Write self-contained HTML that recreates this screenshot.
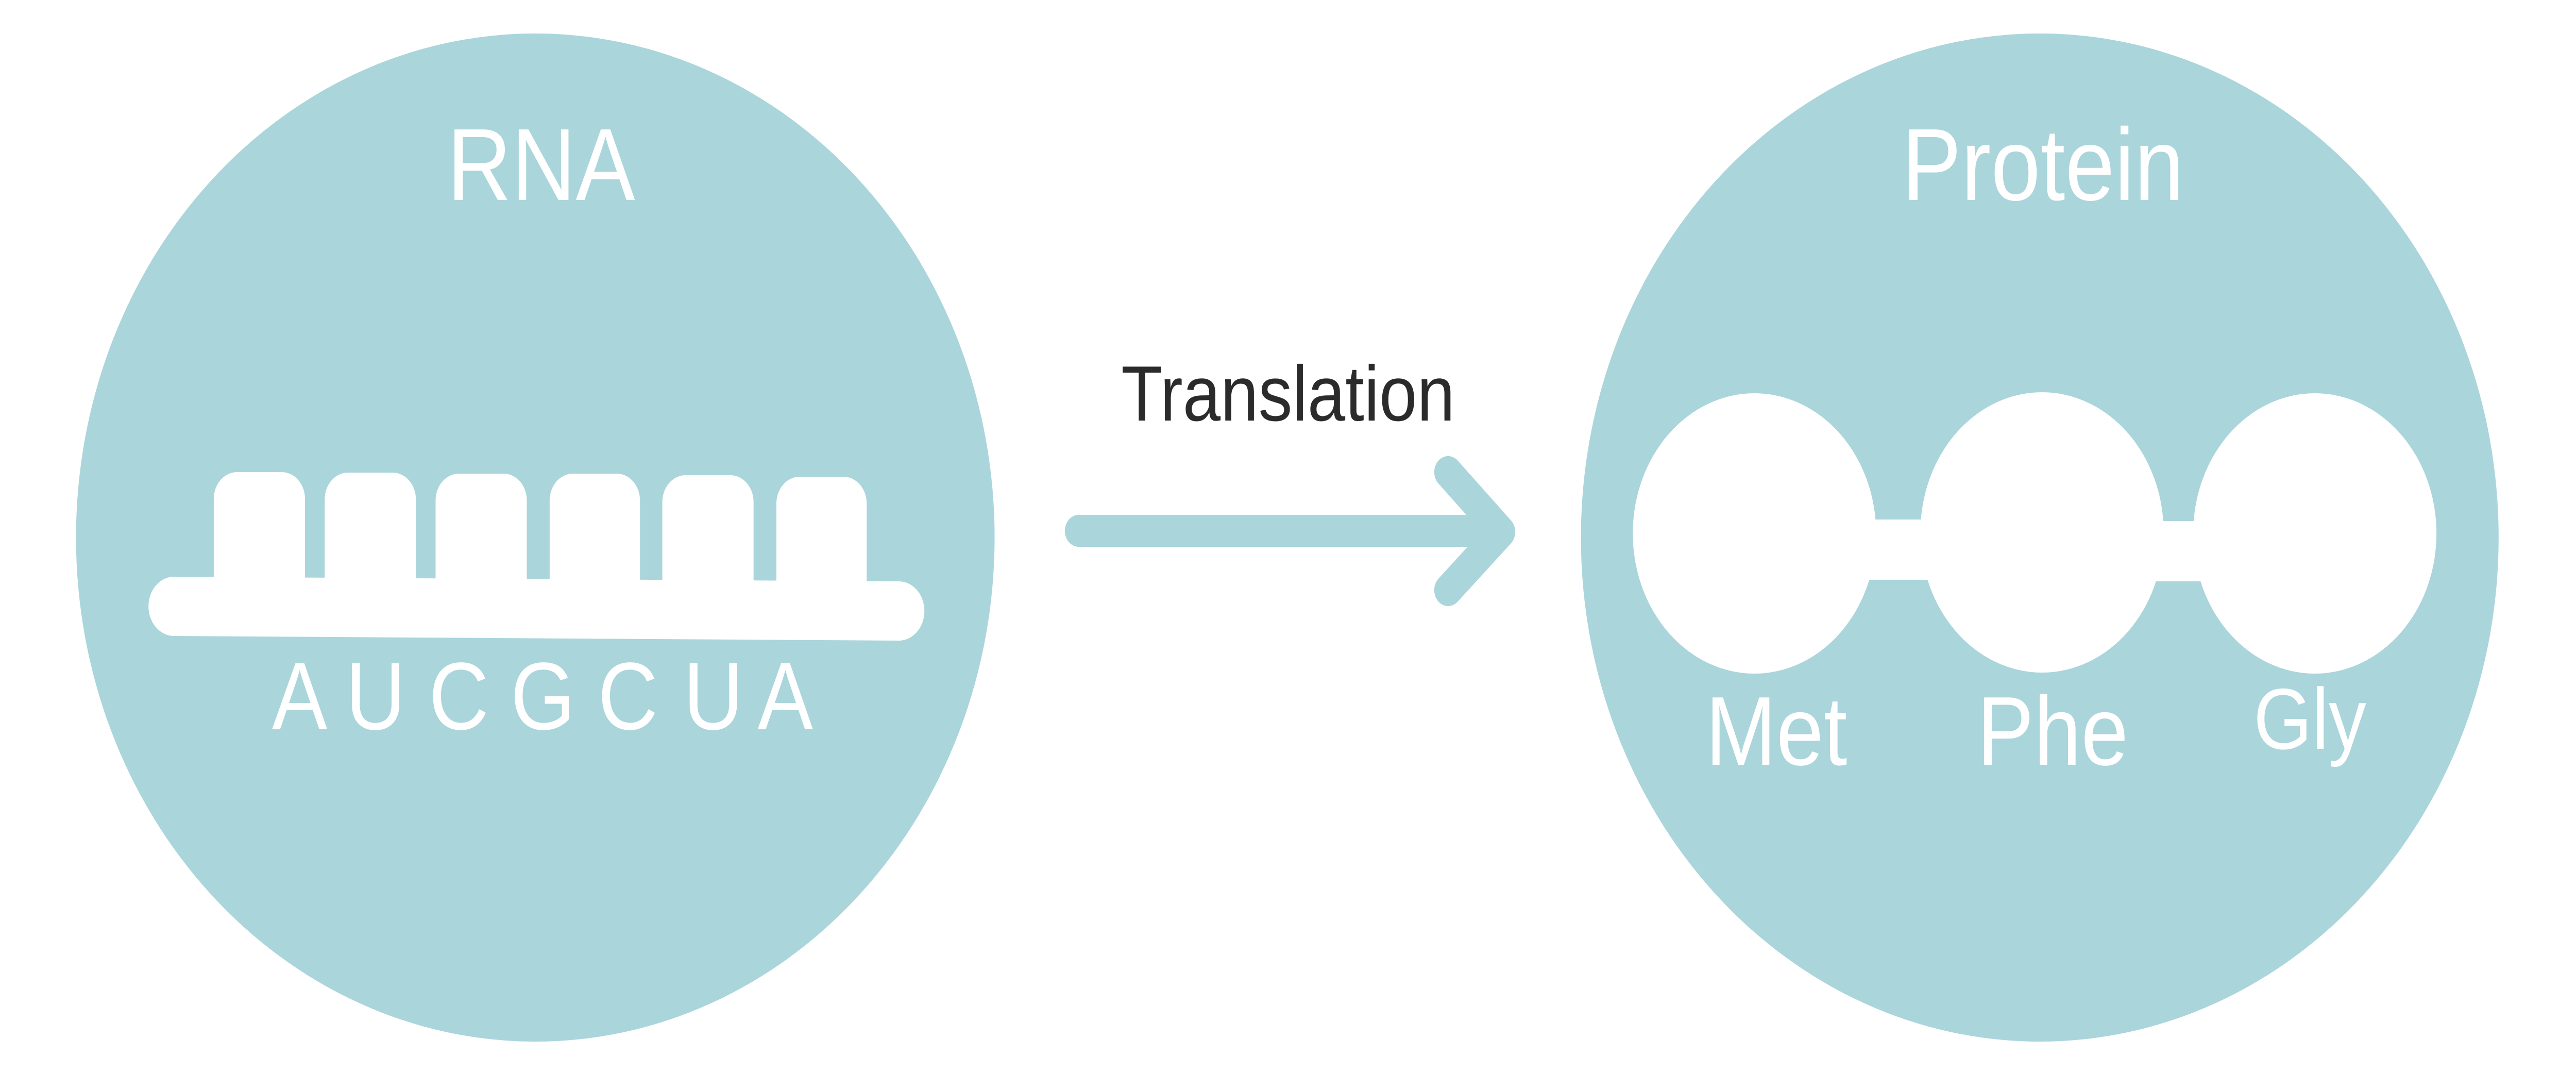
<!DOCTYPE html>
<html><head><meta charset="utf-8"><style>
html,body{margin:0;padding:0;background:#fff;width:100%;height:100%;overflow:hidden;}
svg{display:block;width:100vw;height:100vh;}
text{font-family:"Liberation Sans",Arial,sans-serif;}
</style></head><body>
<svg viewBox="0 0 5760 2080" preserveAspectRatio="none" xmlns="http://www.w3.org/2000/svg">
<rect width="5760" height="2080" fill="#fff"/>
<ellipse cx="1197" cy="1043" rx="1027" ry="978" fill="#aad5db"/>
<ellipse cx="4561" cy="1043" rx="1026" ry="978" fill="#aad5db"/>
<text x="1210" y="388" font-size="199" fill="#fff" text-anchor="middle">RNA</text>
<g fill="#fff">
<path d="M389,1119 L2010,1128 A57,57.5 0 0 1 2010,1243 L389,1234 A57,57.5 0 0 1 389,1119 Z"/>
<rect x="478" y="916" width="204" height="260" rx="52"/>
<rect x="726" y="917" width="204" height="260" rx="52"/>
<rect x="974" y="919" width="204" height="260" rx="52"/>
<rect x="1229" y="919" width="202" height="260" rx="52"/>
<rect x="1481" y="922" width="204" height="260" rx="52"/>
<rect x="1736" y="925" width="202" height="260" rx="52"/>
</g>
<g font-size="186" fill="#fff" text-anchor="middle">
<text x="670" y="1415">A</text>
<text x="840" y="1415">U</text>
<text x="1026" y="1415">C</text>
<text x="1214" y="1415">G</text>
<text x="1404" y="1415">C</text>
<text x="1595" y="1415">U</text>
<text x="1756" y="1415">A</text>
</g>
<text x="2880" y="816" font-size="152" fill="#2b2b2b" text-anchor="middle">Translation</text>
<g stroke="#aad5db" stroke-width="62" stroke-linecap="round" stroke-linejoin="round" fill="none">
<line x1="2412" y1="1030" x2="3320" y2="1030"/>
<polyline points="3238,916 3357,1032 3238,1145"/>
</g>
<text x="4568" y="388" font-size="199" fill="#fff" text-anchor="middle">Protein</text>
<g fill="#fff">
<circle cx="3923" cy="1035" r="272"/>
<circle cx="4566" cy="1033" r="272"/>
<circle cx="5176" cy="1035" r="272"/>
<rect x="3923" y="1008" width="643" height="117"/>
<rect x="4566" y="1011" width="610" height="117"/>
</g>
<g fill="#fff" text-anchor="middle">
<text x="3972" y="1484" font-size="190">Met</text>
<text x="4590" y="1484" font-size="190">Phe</text>
<text x="5165" y="1453" font-size="168">Gly</text>
</g>
</svg>
</body></html>
